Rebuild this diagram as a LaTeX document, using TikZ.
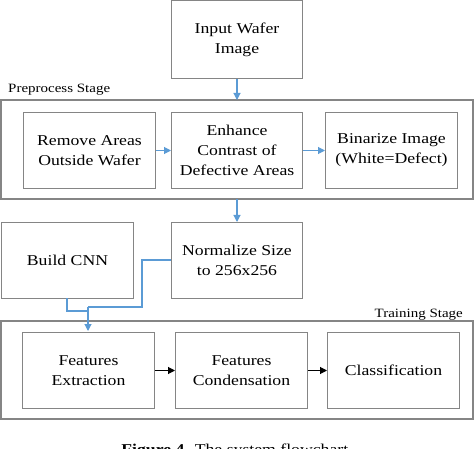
\documentclass[tikz,border=0pt]{standalone}
\usepackage{fontspec}
\setmainfont{Liberation Serif}[FakeStretch=1.18]
\usetikzlibrary{arrows.meta}
\definecolor{boxgray}{HTML}{858585}
\definecolor{flowblue}{HTML}{5B9BD5}
\tikzset{
  box/.style={draw=boxgray, line width=1pt, fill=white},
  stagebox/.style={draw=boxgray, line width=1.1pt},
  txt/.style={align=center, font=\fontsize{15}{20}\selectfont, inner sep=0pt},
  lbl/.style={font=\fontsize{12.7}{14}\selectfont, inner sep=0pt},
  blueflow/.style={draw=flowblue, line width=1.1pt, -{Triangle[length=7pt,width=7pt]}},
  blueline/.style={draw=flowblue, line width=1.1pt},
  blackflow/.style={draw=black, line width=1.1pt, -{Triangle[length=7pt,width=7pt]}},
}
\begin{document}
\begin{tikzpicture}[x=1pt,y=-1pt]
\useasboundingbox (0,0) rectangle (474,449);
% stage frames
\draw[stagebox] (1,100) rectangle (473,199);
\draw[stagebox] (1,321) rectangle (473,419);
\node[lbl, anchor=base west] (prelbl) at (8,93) {Preprocess Stage};
\node[lbl, anchor=base east] (trlbl) at (463,317) {Training Stage};
% boxes
\node[box, minimum width=131pt, minimum height=78pt, anchor=north west] (input) at (171,0) {};
\node[txt] at (input.center) {Input Wafer\\Image};
\node[box, minimum width=132pt, minimum height=76pt, anchor=north west] (remove) at (23,112) {};
\node[txt] at (remove.center) {Remove Areas\\Outside Wafer};
\node[box, minimum width=131pt, minimum height=76pt, anchor=north west] (enhance) at (171,112) {};
\node[txt] at (enhance.center) {Enhance\\Contrast of\\Defective Areas};
\node[box, minimum width=132pt, minimum height=76pt, anchor=north west] (binar) at (325,112) {};
\node[txt] at (binar.center) {Binarize Image\\(White=Defect)};
\node[box, minimum width=132pt, minimum height=76pt, anchor=north west] (cnn) at (1,222) {};
\node[txt] at (cnn.center) {Build CNN};
\node[box, minimum width=131pt, minimum height=76pt, anchor=north west] (norm) at (171,222) {};
\node[txt] at (norm.center) {Normalize Size\\to 256x256};
\node[box, minimum width=132pt, minimum height=76pt, anchor=north west] (fext) at (22,332) {};
\node[txt] at (fext.center) {Features\\Extraction};
\node[box, minimum width=132pt, minimum height=76pt, anchor=north west] (fcond) at (175,332) {};
\node[txt] at (fcond.center) {Features\\Condensation};
\node[box, minimum width=132pt, minimum height=76pt, anchor=north west] (cls) at (327,332) {};
\node[txt] at (cls.center) {Classification};
% connectors
\coordinate (preTop) at (237,100);
\coordinate (preBot) at (237,199);
\coordinate (merge) at (88,307);
\draw[blueflow] (input.south) -- (preTop);
\draw[blueflow] (remove.east) -- (enhance.west);
\draw[blueflow] (enhance.east) -- (binar.west);
\draw[blueflow] (preBot) -- (norm.north);
\draw[blueline] (norm.west |- 0,260) -- (142,260) -- (142,307) -- (merge);
\draw[blueline] (67,298) -- (67,311) -- (88,311);
\draw[blueflow] (merge) -- (88,331);
\draw[blackflow] (fext.east) -- (fcond.west);
\draw[blackflow] (fcond.east) -- (cls.west);
% caption (cut off at bottom, as in the reference)
\node[anchor=base, font=\fontsize{15}{16}\selectfont, inner sep=0pt] (cap) at (237,454) {\textbf{Figure 4.} The system flowchart.};
\end{tikzpicture}
\end{document}
